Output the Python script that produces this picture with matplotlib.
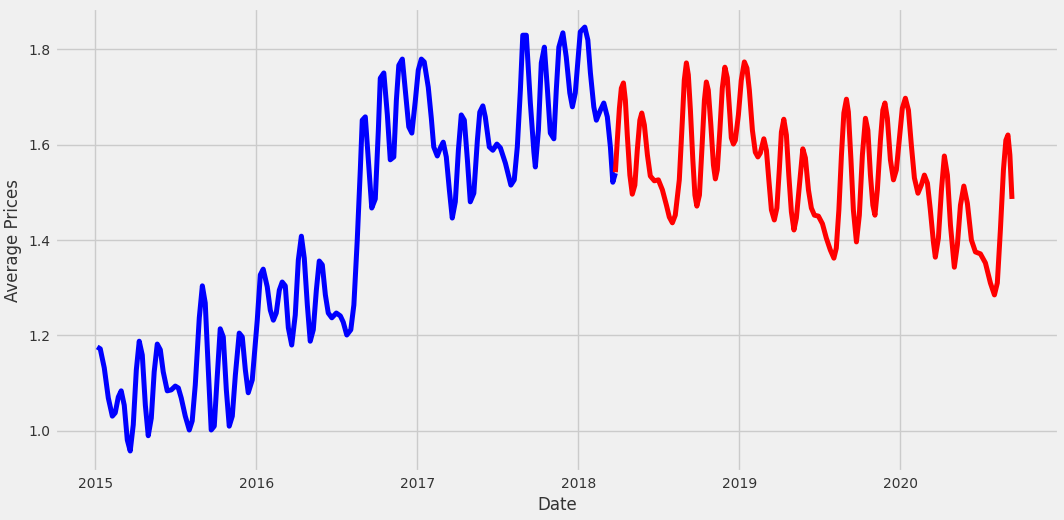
import numpy as np
import matplotlib
matplotlib.use('Agg')
import matplotlib.pyplot as plt

# observed weekly average prices (decimal year, price)
observed_time = [
    2015.012, 2015.031, 2015.056, 2015.081, 2015.106, 2015.124, 2015.143, 2015.161,
    2015.180, 2015.199, 2015.217, 2015.236, 2015.255, 2015.273, 2015.292, 2015.311,
    2015.329, 2015.348, 2015.366, 2015.385, 2015.404, 2015.422, 2015.447, 2015.472,
    2015.497, 2015.516, 2015.534, 2015.559, 2015.584, 2015.602, 2015.621, 2015.646,
    2015.665, 2015.683, 2015.702, 2015.720, 2015.739, 2015.758, 2015.776, 2015.795,
    2015.814, 2015.832, 2015.851, 2015.870, 2015.894, 2015.913, 2015.932, 2015.950,
    2015.975, 2016.006, 2016.025, 2016.043, 2016.068, 2016.087, 2016.106, 2016.124,
    2016.143, 2016.161, 2016.180, 2016.199, 2016.220, 2016.242, 2016.261, 2016.280,
    2016.298, 2016.317, 2016.335, 2016.354, 2016.373, 2016.391, 2016.410, 2016.429,
    2016.447, 2016.469, 2016.497, 2016.522, 2016.540, 2016.562, 2016.587, 2016.606,
    2016.627, 2016.646, 2016.658, 2016.677, 2016.696, 2016.717, 2016.739, 2016.758,
    2016.770, 2016.792, 2016.814, 2016.832, 2016.854, 2016.870, 2016.885, 2016.907,
    2016.925, 2016.947, 2016.966, 2016.988, 2017.006, 2017.025, 2017.043, 2017.068,
    2017.087, 2017.102, 2017.124, 2017.143, 2017.161, 2017.180, 2017.199, 2017.217,
    2017.236, 2017.255, 2017.273, 2017.292, 2017.311, 2017.329, 2017.351, 2017.373,
    2017.388, 2017.407, 2017.422, 2017.447, 2017.469, 2017.494, 2017.516, 2017.547,
    2017.581, 2017.602, 2017.621, 2017.640, 2017.655, 2017.677, 2017.702, 2017.724,
    2017.733, 2017.752, 2017.770, 2017.789, 2017.807, 2017.826, 2017.848, 2017.863,
    2017.879, 2017.904, 2017.925, 2017.947, 2017.963, 2017.981, 2018.012, 2018.040,
    2018.059, 2018.075, 2018.096, 2018.112, 2018.137, 2018.158, 2018.180, 2018.199,
    2018.214, 2018.230,
]
observed_price = [
    1.176, 1.172, 1.132, 1.069, 1.031, 1.038, 1.071, 1.084,
    1.054, 0.981, 0.958, 1.013, 1.128, 1.188, 1.159, 1.054,
    0.990, 1.027, 1.124, 1.182, 1.170, 1.124, 1.084, 1.086,
    1.094, 1.090, 1.069, 1.031, 1.002, 1.021, 1.096, 1.237,
    1.304, 1.268, 1.128, 1.002, 1.010, 1.117, 1.214, 1.197,
    1.086, 1.010, 1.031, 1.117, 1.205, 1.197, 1.128, 1.080,
    1.107, 1.232, 1.327, 1.339, 1.302, 1.253, 1.232, 1.247,
    1.295, 1.312, 1.304, 1.216, 1.180, 1.243, 1.358, 1.408,
    1.362, 1.264, 1.188, 1.212, 1.295, 1.356, 1.348, 1.285,
    1.247, 1.237, 1.247, 1.241, 1.228, 1.201, 1.212, 1.264,
    1.400, 1.547, 1.651, 1.658, 1.568, 1.467, 1.486, 1.630,
    1.739, 1.750, 1.662, 1.568, 1.574, 1.693, 1.766, 1.779,
    1.714, 1.637, 1.624, 1.693, 1.756, 1.779, 1.773, 1.720,
    1.655, 1.595, 1.576, 1.593, 1.605, 1.574, 1.505, 1.446,
    1.480, 1.588, 1.662, 1.651, 1.568, 1.480, 1.498, 1.609,
    1.668, 1.681, 1.658, 1.595, 1.588, 1.601, 1.593, 1.561,
    1.515, 1.526, 1.595, 1.714, 1.829, 1.829, 1.687, 1.584,
    1.553, 1.630, 1.771, 1.804, 1.720, 1.624, 1.612, 1.714,
    1.804, 1.834, 1.783, 1.708, 1.679, 1.708, 1.836, 1.846,
    1.819, 1.750, 1.679, 1.651, 1.672, 1.687, 1.658, 1.595,
    1.521, 1.540,
]

# forecast average prices (decimal year, price)
forecast_time = [
    2018.230, 2018.242, 2018.255, 2018.267, 2018.280, 2018.292, 2018.304, 2018.320,
    2018.335, 2018.351, 2018.366, 2018.382, 2018.394, 2018.410, 2018.429, 2018.447,
    2018.472, 2018.497, 2018.522, 2018.547, 2018.565, 2018.584, 2018.602, 2018.627,
    2018.646, 2018.658, 2018.671, 2018.683, 2018.696, 2018.711, 2018.724, 2018.736,
    2018.752, 2018.767, 2018.783, 2018.795, 2018.807, 2018.823, 2018.839, 2018.851,
    2018.863, 2018.879, 2018.894, 2018.910, 2018.925, 2018.941, 2018.950, 2018.963,
    2018.975, 2018.994, 2019.012, 2019.031, 2019.047, 2019.062, 2019.081, 2019.099,
    2019.115, 2019.130, 2019.152, 2019.168, 2019.183, 2019.199, 2019.217, 2019.233,
    2019.248, 2019.261, 2019.276, 2019.292, 2019.307, 2019.323, 2019.339, 2019.354,
    2019.373, 2019.394, 2019.410, 2019.429, 2019.447, 2019.466, 2019.491, 2019.516,
    2019.540, 2019.565, 2019.587, 2019.602, 2019.618, 2019.634, 2019.649, 2019.665,
    2019.677, 2019.693, 2019.708, 2019.727, 2019.745, 2019.764, 2019.783, 2019.798,
    2019.814, 2019.829, 2019.842, 2019.857, 2019.876, 2019.891, 2019.904, 2019.919,
    2019.938, 2019.957, 2019.975, 2019.994, 2020.012, 2020.031, 2020.050, 2020.068,
    2020.087, 2020.109, 2020.130, 2020.149, 2020.168, 2020.186, 2020.205, 2020.217,
    2020.236, 2020.255, 2020.273, 2020.292, 2020.311, 2020.335, 2020.354, 2020.373,
    2020.394, 2020.416, 2020.441, 2020.466, 2020.497, 2020.528, 2020.559, 2020.584,
    2020.602, 2020.621, 2020.640, 2020.655, 2020.668, 2020.680, 2020.693,
]
forecast_price = [
    1.542, 1.609, 1.676, 1.718, 1.729, 1.693, 1.620, 1.536,
    1.496, 1.515, 1.588, 1.651, 1.666, 1.641, 1.578, 1.534,
    1.524, 1.526, 1.505, 1.473, 1.448, 1.436, 1.452, 1.526,
    1.651, 1.735, 1.771, 1.746, 1.672, 1.568, 1.494, 1.471,
    1.494, 1.588, 1.693, 1.731, 1.714, 1.641, 1.557, 1.528,
    1.547, 1.630, 1.718, 1.762, 1.740, 1.662, 1.614, 1.601,
    1.609, 1.662, 1.735, 1.773, 1.760, 1.714, 1.630, 1.584,
    1.574, 1.582, 1.612, 1.588, 1.526, 1.463, 1.442, 1.467,
    1.547, 1.626, 1.653, 1.620, 1.536, 1.459, 1.421, 1.446,
    1.515, 1.591, 1.572, 1.505, 1.467, 1.452, 1.450, 1.434,
    1.404, 1.379, 1.362, 1.383, 1.463, 1.578, 1.666, 1.695,
    1.668, 1.568, 1.463, 1.396, 1.452, 1.578, 1.655, 1.630,
    1.536, 1.473, 1.452, 1.505, 1.609, 1.672, 1.687, 1.655,
    1.568, 1.526, 1.547, 1.614, 1.676, 1.697, 1.672, 1.599,
    1.530, 1.498, 1.515, 1.536, 1.519, 1.463, 1.396, 1.364,
    1.404, 1.505, 1.576, 1.536, 1.431, 1.343, 1.390, 1.473,
    1.513, 1.477, 1.400, 1.375, 1.371, 1.352, 1.310, 1.285,
    1.310, 1.421, 1.547, 1.609, 1.620, 1.578, 1.486,
]

plt.style.use('fivethirtyeight')
plt.rcParams['font.size'] = 10
plt.rcParams['text.color'] = '#333333'
plt.rcParams['xtick.color'] = '#333333'
plt.rcParams['ytick.color'] = '#333333'
plt.rcParams['axes.labelcolor'] = '#333333'

fig = plt.figure(figsize=(10.64, 5.2), dpi=100)
ax = fig.add_axes([0.0517, 0.0923, 0.9436, 0.8923])

ax.plot(observed_time, observed_price, color='blue', linewidth=3.6)
ax.plot(forecast_time, forecast_price, color='red', linewidth=3.6)

ax.set_xlim(2014.75, 2020.985)
ax.set_ylim(0.914, 1.886)
ax.set_xticks([2015, 2016, 2017, 2018, 2019, 2020])
ax.set_xticklabels(['2015', '2016', '2017', '2018', '2019', '2020'])
ax.set_yticks([1.0, 1.2, 1.4, 1.6, 1.8])
ax.set_xlabel('Date')
ax.set_ylabel('Average Prices')

fig.savefig('out.png', dpi=100)
